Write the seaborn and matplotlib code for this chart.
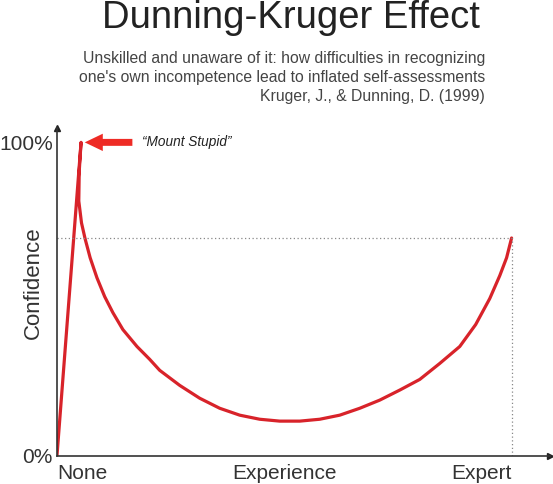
import matplotlib
matplotlib.use("Agg")
import matplotlib.pyplot as plt
import seaborn as sns
import pandas as pd

# data (experience 0..1, confidence 0..1)
experience = [0.0, 0.053, 0.049, 0.048, 0.054, 0.062, 0.073, 0.088, 0.105, 0.123,
              0.145, 0.176, 0.204, 0.226, 0.270, 0.314, 0.358, 0.402, 0.446, 0.490,
              0.534, 0.578, 0.622, 0.666, 0.710, 0.754, 0.798, 0.842, 0.886, 0.921,
              0.952, 0.974, 0.989, 1.0]
confidence = [0.0, 1.0, 0.908, 0.813, 0.743, 0.692, 0.632, 0.568, 0.508, 0.457,
              0.403, 0.349, 0.308, 0.273, 0.225, 0.184, 0.152, 0.130, 0.117, 0.111,
              0.111, 0.117, 0.130, 0.152, 0.178, 0.210, 0.244, 0.295, 0.349, 0.419,
              0.502, 0.575, 0.632, 0.695]
x_ticks = [0.0, 0.5, 1.0]
x_labels = ["None", "Experience", "Expert"]
y_ticks = [0.0, 1.0]
y_labels = ["0%", "100%"]
expert_level = 0.695
peak = (0.055, 1.0)

sns.set_theme(style="white")
plt.rcParams['font.family'] = ['Liberation Sans', 'DejaVu Sans']

df = pd.DataFrame({"experience": experience, "confidence": confidence})

fig = plt.figure(figsize=(5.53, 4.84), dpi=100)
ax = fig.add_axes([0.103, 0.058, 0.892, 0.677])
sns.lineplot(data=df, x="experience", y="confidence", ax=ax, color="#d8232a",
             linewidth=2.3, sort=False, estimator=None,
             solid_joinstyle="round", solid_capstyle="round")

ax.plot([0, 1.0], [expert_level, expert_level], linestyle=(0, (1, 2)),
        color="#888888", linewidth=0.9)
ax.plot([1.0, 1.0], [0, expert_level], linestyle=(0, (1, 2)),
        color="#888888", linewidth=0.9)

ax.set_xlim(0, 1.085)
ax.set_ylim(0, 1.045)
for s in ["top", "right"]:
    ax.spines[s].set_visible(False)
for s in ["left", "bottom"]:
    ax.spines[s].set_color("#333333")
    ax.spines[s].set_linewidth(1.2)
# axis arrows
ax.plot(1.085, 0, ">", color="#222222", markersize=4, clip_on=False)
ax.plot(0, 1.045, "^", color="#222222", markersize=4, clip_on=False)

ax.set_xticks(x_ticks)
ax.set_xticklabels(x_labels, fontsize=15, color="#333333")
labs = ax.get_xticklabels()
labs[0].set_ha("left")
labs[2].set_ha("right")
ax.set_yticks(y_ticks)
ax.set_yticklabels(y_labels, fontsize=15, color="#333333")
ax.tick_params(axis="x", length=0, pad=6)
ax.tick_params(axis="y", length=0, pad=3)
ax.set_xlabel("")
ax.set_ylabel("")
fig.text(33 / 553, 1 - 283 / 484, "Confidence", rotation=90, fontsize=16,
         color="#333333", ha="center", va="center")

ax.annotate("", xy=peak, xytext=(0.172, 1.0),
            arrowprops=dict(arrowstyle="simple,head_length=1.3,head_width=1.25,tail_width=0.5",
                            color="#ee2b25", lw=0, mutation_scale=10))
ax.text(0.187, 1.0, "\u201cMount Stupid\u201d", fontsize=9.8, style="italic",
        va="center", ha="left", color="#222222")

fig.text(480 / 553, 1 - 28 / 484, "Dunning-Kruger Effect", fontsize=27.5,
         ha="right", va="baseline", color="#222222")
sub_lines = ["Unskilled and unaware of it: how difficulties in recognizing",
             "one's own incompetence lead to inflated self-assessments",
             "Kruger, J., & Dunning, D. (1999)"]
for line, base in zip(sub_lines, [63, 82, 101]):
    fig.text(485 / 553, 1 - base / 484, line, fontsize=11.3, ha="right",
             va="baseline", color="#444444")

fig.savefig("out.png", dpi=100)
